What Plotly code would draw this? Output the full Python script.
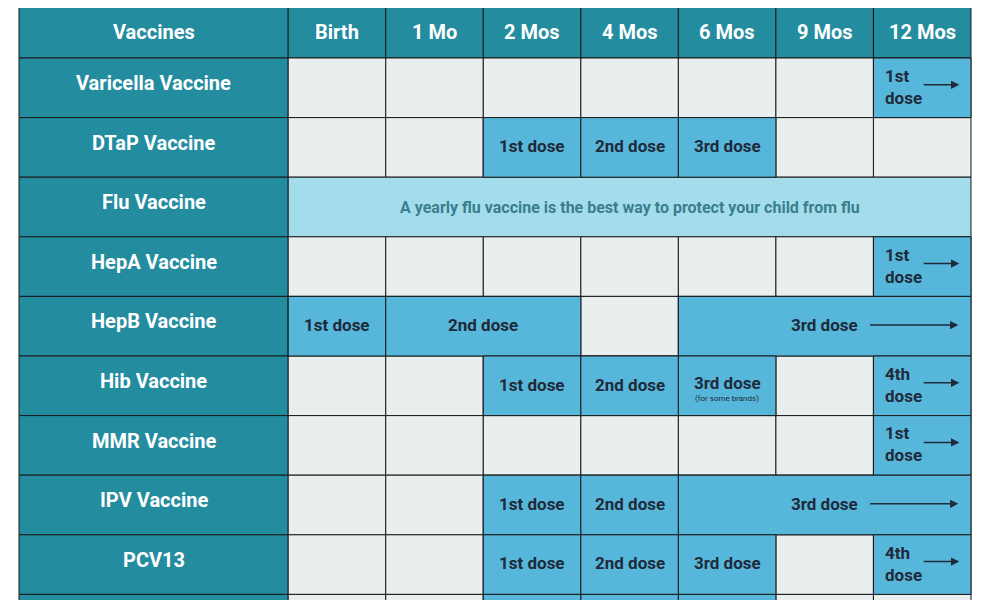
import plotly.graph_objects as go

# table content
ages = ["Birth", "1 Mo", "2 Mos", "4 Mos", "6 Mos", "9 Mos", "12 Mos"]
vaccines = ["Varicella Vaccine", "DTaP Vaccine", "Flu Vaccine", "HepA Vaccine", "HepB Vaccine",
            "Hib Vaccine", "MMR Vaccine", "IPV Vaccine", "PCV13", "RV Vaccine"]
# dose spans per row: (row, first column, last column + 1, label, arrow)
doses = [
    (0, 6, 7, "1st<br>dose", True),
    (1, 2, 3, "1st dose", False), (1, 3, 4, "2nd dose", False), (1, 4, 5, "3rd dose", False),
    (3, 6, 7, "1st<br>dose", True),
    (4, 0, 1, "1st dose", False), (4, 1, 3, "2nd dose", False), (4, 4, 7, "3rd dose", True),
    (5, 2, 3, "1st dose", False), (5, 3, 4, "2nd dose", False), (5, 4, 5, "3rd dose", False),
    (5, 6, 7, "4th<br>dose", True),
    (6, 6, 7, "1st<br>dose", True),
    (7, 2, 3, "1st dose", False), (7, 3, 4, "2nd dose", False), (7, 4, 7, "3rd dose", True),
    (8, 2, 3, "1st dose", False), (8, 3, 4, "2nd dose", False), (8, 4, 5, "3rd dose", False),
    (8, 6, 7, "4th<br>dose", True),
    (9, 2, 3, "1st dose", False), (9, 3, 4, "2nd dose", False), (9, 4, 5, "3rd dose", False),
]
notes = {(5, 4): "(for some brands)"}
flu_row = 2
flu_text = "A yearly flu vaccine is the best way to protect your child from flu"

TEAL = "#238c9f"
GRAY = "#e9eeee"
BLUE = "#57b7da"
FLU = "#a3ddec"
INK = "#1f2a3a"
FONT = "Roboto"

NAME_W = 2.76
HEAD_H = 0.857

shapes = []
ann = []

def cell(x0, x1, y0, y1, color):
    shapes.append(dict(type="rect", xref="x", yref="y", x0=x0, x1=x1, y0=y0, y1=y1,
                       fillcolor=color, line=dict(color="#1a1a1a", width=1), layer="below"))

# header
cell(-NAME_W, 0, -HEAD_H, 0, TEAL)
ann.append(dict(x=-NAME_W / 2, y=-HEAD_H / 2, text="<b>Vaccines</b>",
                font=dict(color="white", size=20, family=FONT), showarrow=False))
for i, a in enumerate(ages):
    cell(i, i + 1, -HEAD_H, 0, TEAL)
    ann.append(dict(x=i + 0.5, y=-HEAD_H / 2, text="<b>" + a + "</b>",
                    font=dict(color="white", size=20, family=FONT), showarrow=False))

# rows
for r, v in enumerate(vaccines):
    cell(-NAME_W, 0, r, r + 1, TEAL)
    ann.append(dict(x=-NAME_W / 2, y=r + 0.42, text="<b>" + v + "</b>",
                    font=dict(color="white", size=20, family=FONT), showarrow=False))
    if r == flu_row:
        cell(0, 7, r, r + 1, FLU)
        ann.append(dict(x=3.5, y=r + 0.5, text="<b>" + flu_text + "</b>",
                        font=dict(color="#3a7e8e", size=16, family=FONT), showarrow=False))
        continue
    for c in range(7):
        cell(c, c + 1, r, r + 1, GRAY)

for r, c0, c1, label, arrow in doses:
    cell(c0, c1, r, r + 1, BLUE)
    if arrow and c1 - c0 == 1:
        ann.append(dict(x=c0 + 0.1, y=r + 0.5, text="<b>" + label + "</b>", xanchor="left",
                        align="left", font=dict(color=INK, size=17, family=FONT),
                        showarrow=False, yshift=1))
        ann.append(dict(x=c0 + 0.88, y=r + 0.45, ax=c0 + 0.5, ay=r + 0.45, axref="x", ayref="y",
                        text="", showarrow=True, arrowhead=2, arrowsize=1.1, arrowwidth=1.5,
                        arrowcolor=INK))
    elif arrow:
        mid = (c0 + c1) / 2
        ann.append(dict(x=mid, y=r + 0.48, text="<b>" + label + "</b>",
                        font=dict(color=INK, size=17, family=FONT), showarrow=False))
        ann.append(dict(x=c1 - 0.13, y=r + 0.48, ax=mid + 0.45, ay=r + 0.48, axref="x", ayref="y",
                        text="", showarrow=True, arrowhead=2, arrowsize=1.1, arrowwidth=1.5,
                        arrowcolor=INK))
    else:
        yy = r + 0.45 if (r, c0) in notes else r + 0.48
        ann.append(dict(x=(c0 + c1) / 2, y=yy, text="<b>" + label + "</b>",
                        font=dict(color=INK, size=17, family=FONT), showarrow=False))
        if (r, c0) in notes:
            ann.append(dict(x=(c0 + c1) / 2, y=r + 0.71, text=notes[(r, c0)],
                            font=dict(color=INK, size=8, family=FONT), showarrow=False))

fig = go.Figure()
fig.update_layout(
    width=1000, height=600, margin=dict(l=0, r=0, t=0, b=0),
    plot_bgcolor="white", paper_bgcolor="white",
    xaxis=dict(range=[-NAME_W - 11 / 97.5, 7 + 37 / 97.5], visible=False, fixedrange=True),
    yaxis=dict(range=[(600 - 50) / 59.6, -50 / 59.6], visible=False, fixedrange=True),
    shapes=shapes, annotations=ann, showlegend=False,
)
fig.write_html("out.html")
